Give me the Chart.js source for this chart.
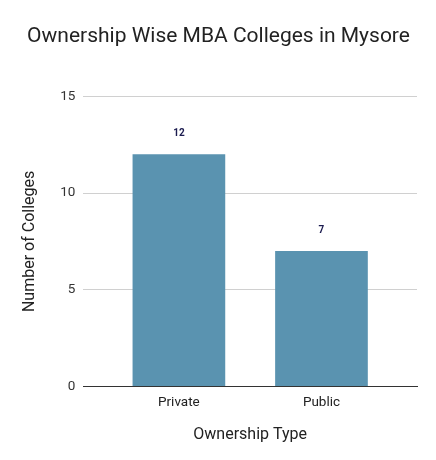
<!DOCTYPE html>
<html>
<head>
<meta charset="utf-8">
<script src="https://cdn.jsdelivr.net/npm/chart.js@4"></script>
<style>
  html, body { margin: 0; padding: 0; background: #fff; }
  #wrap { width: 436px; height: 460px; }
</style>
</head>
<body>
<div id="wrap"><canvas id="ownershipChart"></canvas></div>
<script>
const categories = ['Private', 'Public'];
const colleges = [12, 7];
const yTicks = [0, 5, 10, 15];

// little numbers above each bar
const barValueLabels = {
  id: 'barValueLabels',
  afterDatasetsDraw(chart) {
    const ctx = chart.ctx;
    const meta = chart.getDatasetMeta(0);
    ctx.save();
    ctx.font = 'bold 10px Roboto';
    ctx.fillStyle = '#1b1b4f';
    ctx.textAlign = 'center';
    ctx.textBaseline = 'middle';
    meta.data.forEach((bar, i) => {
      ctx.fillText(String(colleges[i]), bar.x, bar.y - 21);
    });
    ctx.restore();
  }
};

function createChart() {
  const ctx = document.getElementById('ownershipChart').getContext('2d');
  return new Chart(ctx, {
    type: 'bar',
    data: {
      datasets: [{
        data: categories.map((c, i) => ({ x: i, y: colleges[i] })),
        backgroundColor: '#5a93b0',
        barPercentage: 0.65,
        categoryPercentage: 1
      }]
    },
    plugins: [barValueLabels],
    options: {
      responsive: true,
      maintainAspectRatio: false,
      animation: false,
      layout: { padding: { left: 20, right: 19, bottom: 15, top: 0 } },
      plugins: {
        legend: { display: false },
        tooltip: { enabled: false },
        title: {
          display: true,
          text: 'Ownership Wise MBA Colleges in Mysore',
          color: '#222',
          font: { family: 'Roboto', size: 21, weight: 'normal' },
          padding: { top: 24, bottom: 47 }
        }
      },
      scales: {
        x: {
          type: 'linear',
          offset: false,
          min: -0.67,
          max: 1.67,
          afterBuildTicks: (axis) => {
            axis.ticks = categories.map((c, i) => ({ value: i }));
          },
          ticks: {
            callback: (v) => categories[v],
            color: '#222',
            padding: 8,
            font: { family: 'Roboto', size: 13.5 }
          },
          grid: { display: false, drawTicks: false },
          border: { display: true, color: '#333', width: 1 },
          title: {
            display: true,
            text: 'Ownership Type',
            color: '#222',
            font: { family: 'Roboto', size: 16 },
            padding: { top: 7, bottom: 0 }
          }
        },
        y: {
          min: 0,
          max: 15,
          afterBuildTicks: (axis) => {
            axis.ticks = yTicks.map(v => ({ value: v }));
          },
          ticks: {
            color: '#333',
            padding: 8,
            font: { family: 'Roboto', size: 13.5 }
          },
          grid: {
            drawTicks: false,
            color: (c) => c.tick && c.tick.value === 0 ? '#333' : '#d0d0d0'
          },
          border: { display: false },
          title: {
            display: true,
            text: 'Number of Colleges',
            color: '#222',
            font: { family: 'Roboto', size: 16 },
            padding: { top: 0, bottom: 13 }
          }
        }
      }
    }
  });
}

let chart = createChart();
</script>
</body>
</html>
